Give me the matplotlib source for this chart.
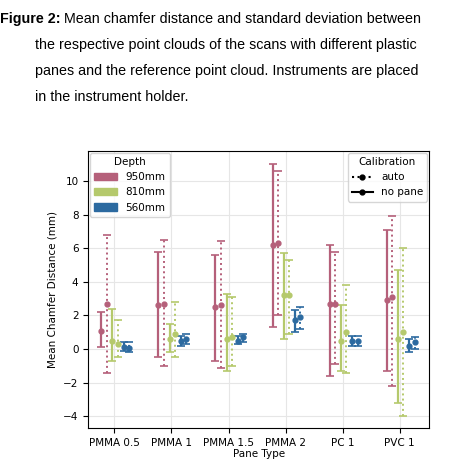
import numpy as np
import matplotlib.pyplot as plt
from matplotlib.patches import Patch
from matplotlib.lines import Line2D

panes = ['PMMA 0.5', 'PMMA 1', 'PMMA 1.5', 'PMMA 2', 'PC 1', 'PVC 1']
depths = ['950mm', '810mm', '560mm']
colors = ['#b5607a', '#b5c96c', '#2c6aa0']

# mean, low, high per depth, per calibration ("no pane" solid, "auto" dotted)
nopane_mean = [[1.1, 2.6, 2.5, 6.2, 2.7, 2.9],
               [0.5, 0.6, 0.6, 3.2, 0.5, 0.6],
               [0.1, 0.5, 0.5, 1.7, 0.5, 0.2]]
nopane_lo = [[0.1, -0.5, -0.7, 1.3, -1.6, -1.3],
             [-0.7, -0.2, -1.3, 0.6, -1.3, -3.2],
             [-0.1, 0.2, 0.3, 1.0, 0.2, -0.2]]
nopane_hi = [[2.2, 5.8, 5.6, 11.0, 6.2, 7.1],
             [2.4, 1.5, 3.3, 5.7, 2.6, 4.7],
             [0.4, 0.8, 0.8, 2.3, 0.8, 0.6]]
auto_mean = [[2.7, 2.7, 2.6, 6.3, 2.7, 3.1],
             [0.3, 0.9, 0.7, 3.2, 1.0, 1.0],
             [0.05, 0.6, 0.7, 1.9, 0.5, 0.4]]
auto_lo = [[-1.4, -1.0, -1.1, 2.0, -0.9, -2.2],
           [-0.5, -0.5, -1.0, 0.9, -1.4, -4.0],
           [-0.2, 0.3, 0.4, 1.2, 0.2, 0.0]]
auto_hi = [[6.8, 6.5, 6.4, 10.6, 5.8, 7.9],
           [1.7, 2.8, 3.1, 5.3, 3.8, 6.0],
           [0.4, 0.9, 0.9, 2.5, 0.8, 0.7]]

fig = plt.figure(figsize=(4.74, 4.74), dpi=100)
cap_font = dict(fontsize=10.3, family='Liberation Sans', va='top')
t = fig.text(0.0, 0.975, 'Figure 2:', fontweight='bold', **cap_font)
fig.canvas.draw()
bb = t.get_window_extent().transformed(fig.transFigure.inverted())
fig.text(bb.x1 + 0.008, 0.975, 'Mean chamfer distance and standard deviation between',
         **cap_font)
for i, line in enumerate(['the respective point clouds of the scans with different plastic',
                          'panes and the reference point cloud. Instruments are placed',
                          'in the instrument holder.']):
    fig.text(0.073, 0.975 - 0.055 * (i + 1), line, **cap_font)

ax = fig.add_axes([0.186, 0.097, 0.72, 0.585])
x = np.arange(len(panes))
step = 0.098
for d in range(3):
    for c, (m, lo, hi, ls) in enumerate([(nopane_mean, nopane_lo, nopane_hi, '-'),
                                         (auto_mean, auto_lo, auto_hi, ':')]):
        xs = x - 0.23 + step * (2 * d + c)
        mean = np.array(m[d])
        err = [mean - np.array(lo[d]), np.array(hi[d]) - mean]
        eb = ax.errorbar(xs, mean, yerr=err, fmt='o', color=colors[d], ms=3.5,
                         capsize=3, elinewidth=1.6 if ls == '-' else 1.4,
                         capthick=1.2)
        eb[2][0].set_linestyle(ls)

ax.set_xticks(x)
ax.set_xticklabels(panes, fontsize=7.5)
ax.set_yticks(range(-4, 11, 2))
ax.tick_params(labelsize=7.5)
ax.set_xlim(-0.46, 5.52)
ax.set_ylim(-4.7, 11.8)
ax.grid(True, color='#e6e6e6', lw=0.8)
ax.set_axisbelow(True)
ax.set_xlabel('Pane Type', fontsize=7.5, labelpad=1)
ax.set_ylabel('Mean Chamfer Distance (mm)', fontsize=7.5)

leg1 = ax.legend([Patch(color=c) for c in colors], depths, title='Depth',
                 loc='upper left', fontsize=7.5, title_fontsize=7.5,
                 borderaxespad=0.2, handlelength=2.2)
ax.add_artist(leg1)
handles = [Line2D([], [], color='black', ls=':', marker='o', ms=3.5),
           Line2D([], [], color='black', ls='-', marker='o', ms=3.5)]
ax.legend(handles, ['auto', 'no pane'], title='Calibration', loc='upper right',
          fontsize=7.5, title_fontsize=7.5, borderaxespad=0.2)

fig.savefig('out.png', dpi=100)
